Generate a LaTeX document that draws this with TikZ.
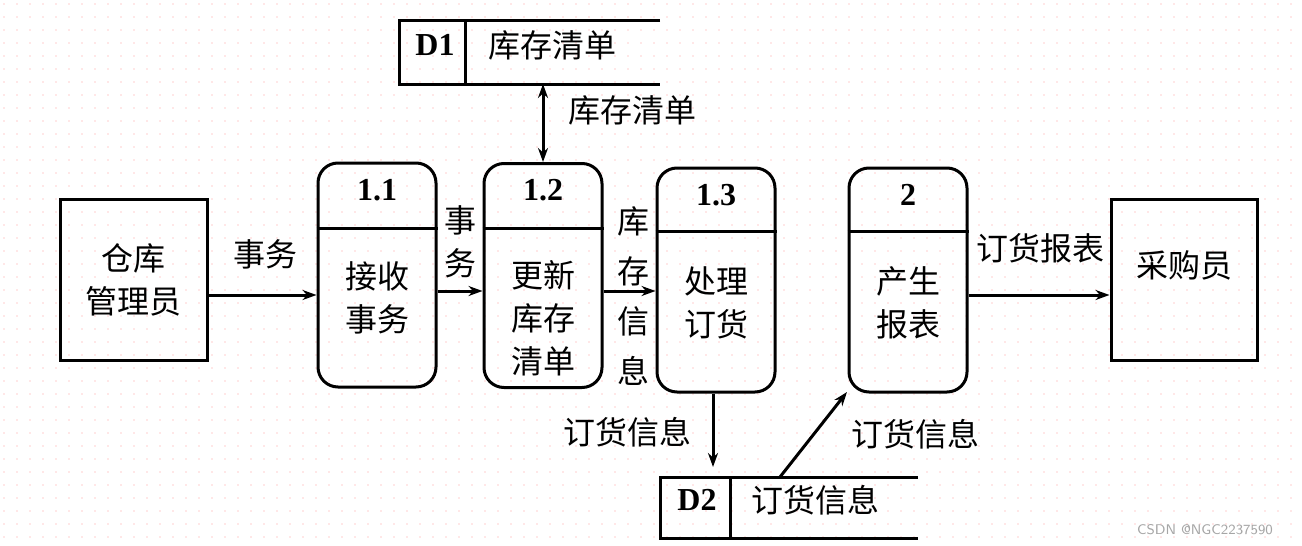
\documentclass[tikz,border=0pt]{standalone}
\usepackage{fontspec}
\setmainfont{Liberation Serif}
\newfontfamily\cjk{Noto Sans CJK SC}
\usetikzlibrary{arrows.meta}
\begin{document}
\begin{tikzpicture}[x=0.5pt,y=-0.5pt,
  ln/.style={line width=1.5pt},
  arr/.style={ln,-{Stealth[length=7pt,width=5pt]}},
  ent/.style={draw,ln,rectangle,inner sep=0pt},
  proc/.style={draw,ln,rectangle,rounded corners=10pt,inner sep=0pt,minimum width=59pt,minimum height=112pt},
  lab/.style={font=\cjk\fontsize{16}{21.5}\selectfont,inner sep=1pt,align=center},
  num/.style={font=\bfseries\fontsize{16}{18}\selectfont,inner sep=0pt}]
\useasboundingbox (0,0) rectangle (1302,546);
\fill[white] (0,0) rectangle (1302,546);
\foreach \i in {0,...,99} \foreach \j in {0,...,41}
  \fill[red!40] (\i*13+4,\j*13+4) circle (0.35pt);
% entities
\node[ent,minimum width=73.5pt,minimum height=80.5pt] (mgr) at (133.5,279.5) {};
\node[lab] at (mgr) {仓库\\管理员};
\node[ent,minimum width=73pt,minimum height=80.5pt] (buy) at (1184,279.5) {};
\node[lab] at (1184,265) {采购员};
% processes
\node[proc] (p1) at (377,275) {};
\node[proc] (p2) at (543,275.5) {};
\node[proc] (p3) at (716,280) {};
\node[proc] (p4) at (908,280) {};
\draw[ln] (p1.west |- 0,228) -- (p1.east |- 0,228);
\draw[ln] (p2.west |- 0,228) -- (p2.east |- 0,228);
\draw[ln] (p3.west |- 0,231) -- (p3.east |- 0,231);
\draw[ln] (p4.west |- 0,231) -- (p4.east |- 0,231);
\node[num] at (377,190) {1.1};
\node[num] at (543,190) {1.2};
\node[num] at (716,195) {1.3};
\node[num] at (908,195) {2};
\node[lab] at (377,298) {接收\\事务};
\node[lab] at (543,318) {更新\\库存\\清单};
\node[lab] at (716,303) {处理\\订货};
\node[lab] at (908,303) {产生\\报表};
% data stores
\draw[ln] (660,20) -- (399,20) -- (399,84) -- (660,84);
\draw[ln] (465,20) -- (465,84);
\coordinate (d1) at (543,84);
\node[num] at (435,45) {D1};
\node[lab] at (552,45) {库存清单};
\draw[ln] (918,477) -- (660,477) -- (660,538) -- (918,538);
\draw[ln] (730,477) -- (730,538);
\coordinate (d2a) at (713,467);
\coordinate (d2b) at (780,477);
\node[num] at (697,500) {D2};
\node[lab] at (815,500) {订货信息};
% flows
\draw[arr] (mgr.east |- 0,295) -- (p1.west |- 0,295);
\node[lab] at (265,254) {事务};
\draw[arr] (p1.east |- 0,291) -- (p2.west |- 0,291);
\node[lab] at (460,242) {事\\务};
\draw[arr] (p2.east |- 0,291) -- (p3.west |- 0,291);
\node[lab,font=\cjk\fontsize{16}{25}\selectfont] at (633,296) {库\\存\\信\\息};
\draw[ln,{Stealth[length=7pt,width=5pt]}-{Stealth[length=7pt,width=5pt]}] (d1) -- (p2.north);
\node[lab] at (632,110) {库存清单};
\draw[arr] (p3.south -| 713,0) -- (d2a);
\node[lab] at (627,432) {订货信息};
\draw[arr] (d2b) -- (847,392);
\node[lab] at (915,434) {订货信息};
\draw[arr] (p4.east |- 0,295) -- (buy.west |- 0,295);
\node[lab] at (1040,248) {订货报表};
\node[font=\fontsize{7}{8}\selectfont\sffamily,text=gray!70] at (1205,530) {CSDN @NGC2237590};
\end{tikzpicture}
\end{document}
